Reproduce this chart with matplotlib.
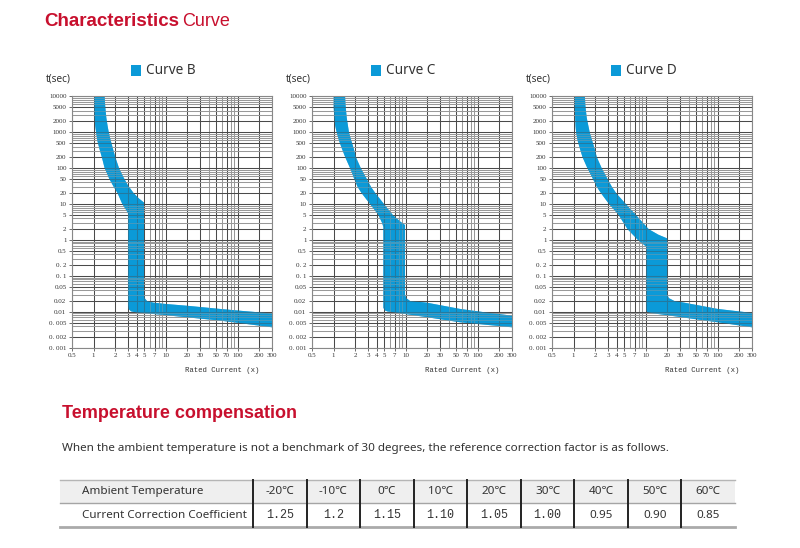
# Characteristics curves (B, C, D) and temperature compensation table

import matplotlib.pyplot as plt
import numpy as np
from matplotlib.patches import Rectangle
from matplotlib.ticker import FixedLocator, FixedFormatter, NullFormatter

plt.rcParams['font.family'] = ['Noto Sans', 'Noto Sans CJK SC', 'DejaVu Sans']

# ---- curve bands: upper (right) edge and lower (left) edge, current in x In, time in s
b_upper_i = [1.42, 1.45, 1.5, 1.56, 1.62, 1.72, 1.85, 2.0, 2.25, 2.6, 3.0, 3.6, 4.3, 5.0, 5.0, 5.1, 5.5, 6.7, 10, 20, 57, 120, 300]
b_upper_t = [10000, 5000, 2500, 1500, 1000, 600, 350, 200, 100, 55, 33, 20, 14, 11, 0.03, 0.024, 0.02, 0.018, 0.0165, 0.0147, 0.012, 0.0105, 0.009]
b_lower_i = [1.02, 1.02, 1.03, 1.05, 1.08, 1.12, 1.2, 1.3, 1.42, 1.65, 1.9, 2.15, 2.5, 2.8, 3.0, 3.0, 3.05, 3.3, 4.0, 6.7, 20, 57, 300]
b_lower_t = [10000, 5000, 2500, 1500, 1000, 600, 350, 200, 100, 50, 30, 20, 10, 7, 5.5, 0.015, 0.012, 0.0103, 0.0095, 0.0087, 0.007, 0.0057, 0.0037]

c_upper_i = [1.44, 1.47, 1.52, 1.58, 1.63, 1.75, 1.9, 2.04, 2.38, 2.88, 3.3, 3.8, 5.0, 6.6, 8.5, 9.8, 9.8, 10.2, 11.5, 19.5, 57, 120, 300]
c_upper_t = [10000, 5000, 2500, 1500, 1000, 600, 350, 200, 100, 50, 30, 20, 10, 5, 3.2, 2.6, 0.03, 0.024, 0.02, 0.018, 0.012, 0.0098, 0.0078]
c_lower_i = [1.0, 1.0, 1.02, 1.05, 1.1, 1.18, 1.3, 1.45, 1.69, 1.93, 2.15, 2.45, 3.2, 4.17, 4.7, 4.9, 4.9, 5.1, 5.6, 6.7, 19.5, 57, 300]
c_lower_t = [10000, 5000, 2500, 1500, 1000, 600, 350, 200, 100, 50, 30, 20, 10, 5, 3, 2.3, 0.013, 0.011, 0.0102, 0.0097, 0.0071, 0.0051, 0.0037]

d_upper_i = [1.43, 1.46, 1.52, 1.6, 1.67, 1.8, 1.95, 2.1, 2.45, 2.95, 3.4, 3.9, 5.3, 7.3, 11, 15, 20, 20, 21, 25, 34, 100, 300]
d_upper_t = [10000, 5000, 2500, 1500, 1000, 600, 350, 200, 100, 50, 30, 20, 10, 5, 2, 1.4, 1.1, 0.03, 0.024, 0.02, 0.018, 0.012, 0.0093]
d_lower_i = [1.03, 1.03, 1.05, 1.06, 1.08, 1.13, 1.22, 1.33, 1.55, 1.85, 2.1, 2.4, 3.1, 4.2, 5.6, 7.8, 10.2, 10.2, 10.6, 12, 22, 100, 300]
d_lower_t = [10000, 5000, 2500, 1500, 1000, 600, 350, 200, 100, 50, 30, 20, 10, 5, 2, 1, 0.65, 0.011, 0.0098, 0.0092, 0.0078, 0.0051, 0.0037]

curve_names = ['Curve B', 'Curve C', 'Curve D']

x_ticks = [0.5, 1, 2, 3, 4, 5, 7, 10, 20, 30, 50, 70, 100, 200, 300]
x_labels = ['0.5', '1', '2', '3', '4', '5', '7', '10', '20', '30', '50', '70', '100', '200', '300']
x_minor = [6, 8, 9, 40, 60, 80, 90]
y_ticks = [10000, 5000, 2000, 1000, 500, 200, 100, 50, 20, 10, 5, 2, 1,
           0.5, 0.2, 0.1, 0.05, 0.02, 0.01, 0.005, 0.002, 0.001]
y_labels = ['10000', '5000', '2000', '1000', '500', '200', '100', '50', '20', '10', '5', '2', '1',
            '0.5', '0. 2', '0. 1', '0.05', '0.02', '0.01', '0. 005', '0. 002', '0. 001']

# ---- temperature table
temps = ['-20℃', '-10℃', '0℃', '10℃', '20℃', '30℃', '40℃', '50℃', '60℃']
coeffs = ['1.25', '1.2', '1.15', '1.10', '1.05', '1.00', '0.95', '0.90', '0.85']

RED = '#c8102e'
BLUE = '#0b9ad8'
TXT = '#333333'
HEAD = ['Liberation Sans', 'DejaVu Sans']

fig = plt.figure(figsize=(8, 5.48), dpi=100)

bg = fig.add_axes([0, 0, 1, 1], zorder=-1)
bg.set_xlim(0, 800)
bg.set_ylim(548, 0)
bg.axis('off')

t1 = bg.text(44, 22, 'Characteristics', color=RED, fontsize=13.5, fontweight='bold',
             va='center', family=HEAD)
fig.canvas.draw()
x_end = bg.transData.inverted().transform(t1.get_window_extent().get_points())[1][0]
bg.text(x_end + 3, 22, 'Curve', color=RED, fontsize=13, va='center', family=HEAD)

bands = [
    (b_upper_i, b_upper_t, b_lower_i, b_lower_t),
    (c_upper_i, c_upper_t, c_lower_i, c_lower_t),
    (d_upper_i, d_upper_t, d_lower_i, d_lower_t),
]
ax_left_px = [72, 312, 552]

y_minor = (np.array([3, 4, 6, 7, 8, 9])[None, :] * 10.0 ** np.arange(-3, 4)[:, None]).ravel()

for k in range(3):
    lp = ax_left_px[k]
    ax = fig.add_axes([lp / 800, 1 - 347.7 / 548, 200 / 800, 251.4 / 548])
    ui, ut, li, lt = bands[k]
    bx = ui + li[::-1]
    by = ut + lt[::-1]
    # solid band under the grid, translucent copy over it so lines turn dark blue
    ax.fill(bx, by, color=BLUE, lw=0, zorder=1)
    ax.fill(bx, by, color=BLUE, lw=0, alpha=0.6, zorder=3)

    ax.set_xscale('log')
    ax.set_yscale('log')
    ax.set_xlim(0.5, 300)
    ax.set_ylim(0.001, 10000)

    ax.xaxis.set_major_locator(FixedLocator(x_ticks))
    ax.xaxis.set_major_formatter(FixedFormatter(x_labels))
    ax.xaxis.set_minor_locator(FixedLocator(x_minor))
    ax.xaxis.set_minor_formatter(NullFormatter())
    ax.yaxis.set_major_locator(FixedLocator(y_ticks))
    ax.yaxis.set_major_formatter(FixedFormatter(y_labels))
    ax.yaxis.set_minor_locator(FixedLocator(y_minor))
    ax.yaxis.set_minor_formatter(NullFormatter())

    ax.set_axisbelow(False)
    ax.grid(True, which='major', color='#4a4a4a', lw=0.75)
    ax.grid(True, which='minor', color='#999999', lw=0.75)

    ax.tick_params(which='major', length=2.5, width=0.6, color='#555555', pad=1.5,
                   labelsize=5, labelcolor=TXT)
    ax.tick_params(which='minor', length=0)
    for lab in ax.get_xticklabels() + ax.get_yticklabels():
        lab.set_family('Liberation Serif')
    for s in ax.spines.values():
        s.set_color('#888888')
        s.set_linewidth(0.8)
        s.set_zorder(4)

    # header texts for each chart
    bg.add_patch(Rectangle((lp + 59, 65), 10, 11, color=BLUE, lw=0))
    bg.text(lp + 74, 70.5, curve_names[k], fontsize=9.8, color=TXT, va='center')
    bg.text(lp - 26, 79, 't(sec)', fontsize=7.3, color=TXT, va='center')
    bg.text(lp + 187, 371, 'Rated Current (x)', fontsize=5.3, color=TXT, va='center',
            ha='right', family='Liberation Mono')

# ---- temperature compensation section
bg.text(62, 413, 'Temperature compensation', color=RED, fontsize=13, fontweight='bold',
        va='center', family=HEAD)
bg.text(62, 449, 'When the ambient temperature is not a benchmark of 30 degrees, '
        'the reference correction factor is as follows.', fontsize=8.4, color=TXT, va='center')

t_left, t_first, t_right = 60, 253, 735
top, mid, bot = 479.5, 503, 527
col_w = (t_right - t_first) / len(temps)

bg.add_patch(Rectangle((t_left, top), t_right - t_left, mid - top, color='#efefef', lw=0))
bg.plot([t_left, t_right], [top, top], color='#b5b5b5', lw=1)
bg.plot([t_left, t_right], [mid, mid], color='#a5a5a5', lw=1)
bg.plot([t_left, t_right], [bot, bot], color='#aaaaaa', lw=2)
for j in range(len(temps)):
    x0 = t_first + j * col_w
    bg.plot([x0, x0], [top, bot], color='#222222', lw=1.4)

bg.text(82, (top + mid) / 2, 'Ambient Temperature', fontsize=8.4, color=TXT, va='center')
bg.text(82, (mid + bot) / 2, 'Current Correction Coefficient', fontsize=8.4, color=TXT, va='center')
for j in range(len(temps)):
    xc = t_first + (j + 0.5) * col_w
    bg.text(xc, (top + mid) / 2 + 0.5, temps[j], fontsize=8.4, color=TXT, ha='center', va='center')
    if j < 6:
        bg.text(xc, (mid + bot) / 2, coeffs[j], fontsize=8.4, color=TXT, ha='center', va='center',
                family='Liberation Mono')
    else:
        bg.text(xc, (mid + bot) / 2, coeffs[j], fontsize=8.4, color=TXT, ha='center', va='center')

fig.savefig('out.png', dpi=100)
